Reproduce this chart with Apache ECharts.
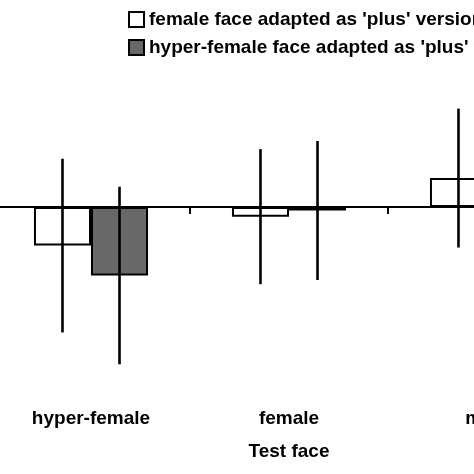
<!DOCTYPE html>
<html>
<head>
<meta charset="utf-8">
<script src="https://cdn.jsdelivr.net/npm/echarts@6/dist/echarts.min.js"></script>
<style>
html,body{margin:0;padding:0;background:#fff;}
#chart{width:474px;height:474px;}
</style>
</head>
<body>
<div id="chart"></div>
<script>
// Data (units: adaptation effect, arbitrary scale)
var categories = ['hyper-female', 'female', 'male'];
var seriesNames = ["female face adapted as 'plus' version", "hyper-female face adapted as 'plus' version"];
var femaleAdapted = [-0.20, -0.05, 0.15];
var femaleAdaptedErr = [0.45, 0.35, 0.36];
var hyperAdapted = [-0.355, -0.018, 0.10];
var hyperAdaptedErr = [0.46, 0.36, 0.35];
var axisTitle = 'Test face';

var FONT = '"Liberation Sans", Arial, Helvetica, sans-serif';
var GAP = 0.424;

function errorSeries(means, errs, sign) {
  var data = means.map(function (m, i) { return [i, m - errs[i], m + errs[i]]; });
  return {
    type: 'custom',
    xAxisIndex: 0,
    yAxisIndex: 0,
    z: 10,
    silent: true,
    clip: false,
    data: data,
    renderItem: function (params, api) {
      var band = api.size([1, 0])[0];
      var off = sign * band * (1 - GAP) / 4;
      var lo = api.coord([api.value(0), api.value(1)]);
      var hi = api.coord([api.value(0), api.value(2)]);
      return {
        type: 'line',
        shape: { x1: lo[0] + off, y1: lo[1], x2: hi[0] + off, y2: hi[1] },
        style: { stroke: '#000', lineWidth: 2.6 }
      };
    }
  };
}

var chart = echarts.init(document.getElementById('chart'), null, { renderer: 'canvas' });
chart.setOption({
  animation: false,
  backgroundColor: '#fff',
  textStyle: { fontFamily: FONT },
  legend: {
    orient: 'vertical',
    left: 128,
    top: 10,
    padding: 0,
    itemWidth: 15,
    itemHeight: 15,
    itemGap: 9,
    icon: 'rect',
    data: seriesNames,
    textStyle: { fontFamily: FONT, fontWeight: 'bold', fontSize: 19, lineHeight: 17, color: '#000' }
  },
  grid: { left: -8, right: -112, top: 14, bottom: 74, containLabel: false, outerBoundsMode: 'none' },
  xAxis: [
    {
      type: 'category',
      data: categories,
      position: 'bottom',
      axisLine: { onZero: true, lineStyle: { color: '#000', width: 2 } },
      axisTick: { show: true, length: 7, lineStyle: { color: '#000', width: 2 } },
      axisLabel: { show: false },
      splitLine: { show: false }
    },
    {
      type: 'category',
      data: categories,
      position: 'bottom',
      axisLine: { show: false, onZero: false },
      axisTick: { show: false },
      axisLabel: { show: true, margin: 9, color: '#000', fontFamily: FONT, fontWeight: 'bold', fontSize: 19 },
      name: axisTitle,
      nameLocation: 'middle',
      nameGap: 42,
      nameTextStyle: { color: '#000', fontFamily: FONT, fontWeight: 'bold', fontSize: 19 },
      splitLine: { show: false }
    }
  ],
  yAxis: {
    type: 'value',
    min: -1,
    max: 1,
    show: false,
    splitLine: { show: false }
  },
  series: [
    {
      name: seriesNames[0],
      type: 'bar',
      xAxisIndex: 0,
      data: femaleAdapted,
      barGap: '0%',
      barCategoryGap: (GAP * 100) + '%',
      itemStyle: { color: '#fff', borderColor: '#000', borderWidth: 2 }
    },
    {
      name: seriesNames[1],
      type: 'bar',
      xAxisIndex: 0,
      data: hyperAdapted,
      barGap: '0%',
      barCategoryGap: (GAP * 100) + '%',
      itemStyle: { color: '#686868', borderColor: '#000', borderWidth: 2 }
    },
    errorSeries(femaleAdapted, femaleAdaptedErr, -1),
    errorSeries(hyperAdapted, hyperAdaptedErr, 1)
  ]
});
</script>
</body>
</html>
